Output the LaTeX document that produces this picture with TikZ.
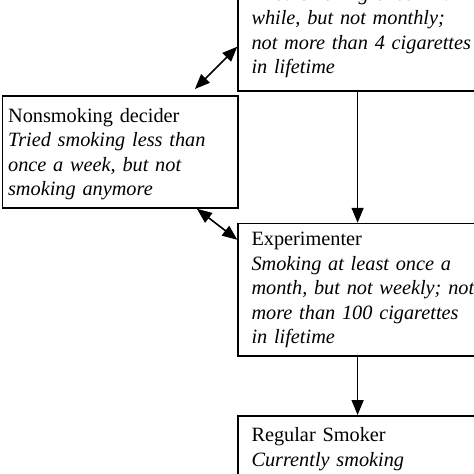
\documentclass[tikz,border=0pt]{standalone}
\usepackage{fontspec}
\setmainfont{Liberation Serif}
\usetikzlibrary{arrows.meta}

\tikzset{
  stage/.style={draw, anchor=north west, align=left, inner ysep=8pt,
    font=\fontsize{20.3pt}{24.5pt}\selectfont},
  stageL/.style={stage, text width=224.4pt, inner xsep=5.6pt},
  stageR/.style={stage, text width=212.2pt, inner xsep=13.4pt},
}

\begin{document}
\begin{tikzpicture}[x=1pt, y=1pt, line width=1.6pt, >={Triangle[length=15pt,width=12pt]}]

  \newcommand\X{235.6};
  \newcommand\Y{-1};

  \useasboundingbox (0,0) rectangle (474,-474);

  \node[stageR, text height=14pt, text depth=82.9pt] (trier) at (1.7+1*\X, -22.8*\Y)
    {\itshape Tried smoking once in a\\while, but not monthly;\\\mbox{not more than 4 cigarettes}\\in lifetime};
  \node[stageL, text height=18.3pt] (decider) at (1.7+0*\X, 95*\Y)
    {Nonsmoking decider\\\itshape Tried smoking less than\\once a week, but not\\smoking anymore};
  \node[stageR, text height=14pt] (experimenter) at (1.7+1*\X, 222.8*\Y)
    {Experimenter\\\itshape Smoking at least once a\\\mbox{month, but not weekly; not}\\more than 100 cigarettes\\in lifetime};
  \node[stageR, text height=17.7pt] (regular) at (1.7+1*\X, 415*\Y)
    {Regular Smoker\\\itshape Currently smoking};

  \draw[->] (trier.south) -- (experimenter.north); %% trier->experimenter
  \draw[->] (experimenter.south) -- (regular.north); %% experimenter->regular

  \draw[<->] ([xshift=-44pt, yshift=6pt]decider.north east) -- ([yshift=45pt]trier.south west);
  \draw[<->] ([xshift=-42pt]decider.south east) -- ([yshift=-17pt]experimenter.north west);
\end{tikzpicture}
\end{document}
